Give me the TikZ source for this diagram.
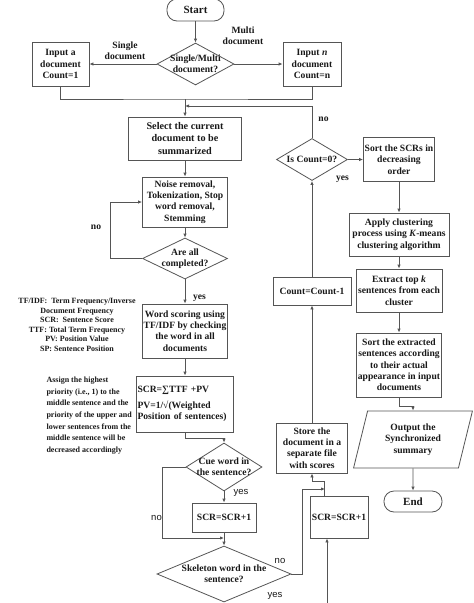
\documentclass[tikz,border=0pt]{standalone}
\usepackage{fontspec}
\setmainfont{Liberation Serif}
\newfontfamily\labelsans{Liberation Sans}
\usetikzlibrary{shapes.geometric, arrows.meta}
\usepackage{xcolor}
\definecolor{linegray}{RGB}{85,85,85}
\definecolor{inkblack}{RGB}{25,25,25}

\tikzset{
  flowline/.style={draw=linegray, line width=0.8pt},
  arr/.style={flowline, -{Latex[length=4pt,width=3.4pt]}},
  boxfont/.style={font=\fontsize{9.6}{11.3}\selectfont\bfseries, text=inkblack},
  procbox/.style={flowline, boxfont, rectangle, align=center, inner sep=1pt},
  decision/.style={flowline, diamond, inner sep=0pt},
  dtext/.style={boxfont, align=center},
  terminal/.style={flowline, boxfont, rectangle, rounded corners=10pt, font=\fontsize{11}{13}\selectfont\bfseries},
  iobox/.style={flowline, boxfont, trapezium, trapezium left angle=75, trapezium right angle=105, trapezium stretches=true, align=center, inner sep=1pt},
  serifnote/.style={boxfont, align=center},
  sansnote/.style={font=\labelsans\fontsize{9.5}{11}\selectfont, text=inkblack},
}

\begin{document}
\begin{tikzpicture}[x=1pt, y=-1pt]

    \useasboundingbox[fill=white] (0,0) rectangle (474,603);

    %left column
    \node[terminal, minimum width=57pt, minimum height=22pt] (start) at (195.5,10) {Start};
    \node[decision, minimum width=77pt, minimum height=42pt, label={[dtext]center:{Single/Multi\\document?}}] (mode) at (195.5,64) {};
    \node[procbox, minimum width=57pt, minimum height=44pt] (in1) at (60.5,64) {Input a\\document\\Count=1};
    \node[procbox, minimum width=58pt, minimum height=44pt] (inn) at (312,64) {Input \textit{n}\\document\\Count=n};
    \node[procbox, minimum width=113pt, minimum height=43pt, font=\fontsize{10.2}{12.3}\selectfont\bfseries] (select) at (185,138.5) {Select the current\\document to be\\summarized};
    \node[procbox, minimum width=85pt, minimum height=50pt] (noise) at (185,202) {Noise removal,\\Tokenization, Stop\\word removal,\\Stemming};
    \node[decision, minimum width=85pt, minimum height=41pt, label={[dtext]center:{Are all\\completed?}}] (done) at (185,258.5) {};
    \node[procbox, minimum width=85pt, minimum height=54pt] (score) at (185,331) {Word scoring using\\TF/IDF by checking\\the word in all\\documents};
    \node[procbox, align=left, text width=95pt, minimum height=56pt] (scr) at (185,404) {SCR=∑TTF +PV\\[5pt]PV=1/√(Weighted\\Position of sentences)};
    \node[decision, minimum width=76pt, minimum height=48pt, label={[dtext]center:{Cue word in\\the sentence?}}] (cue) at (224,467) {};
    \node[procbox, minimum width=64pt, minimum height=29pt] (add1) at (224,517.5) {SCR=SCR+1};
    \node[decision, minimum width=134pt, minimum height=56pt, label={[dtext]center:{Skeleton word in the\\sentence?}}] (skel) at (224,574) {};

    %middle column
    \node[decision, minimum width=71pt, minimum height=42pt, label={[dtext]center:{Is Count=0?}}] (countz) at (312,159.5) {};
    \node[procbox, minimum width=78pt, minimum height=28pt] (cnt) at (312,291) {Count=Count-1};
    \node[procbox, minimum width=71pt, minimum height=50pt] (store) at (312,448) {Store the\\document in a\\separate file\\with scores};
    \node[procbox, minimum width=58pt, minimum height=42pt] (add2) at (339,517) {SCR=SCR+1};

    %right column
    \node[procbox, minimum width=71pt, minimum height=44pt] (sortscr) at (399,159.5) {Sort the SCRs in\\decreasing\\order};
    \node[procbox, minimum width=100pt, minimum height=43pt] (cluster) at (399,234.5) {Apply clustering\\process using \textit{K}-means\\clustering algorithm};
    \node[procbox, minimum width=86pt, minimum height=43pt] (topk) at (399,290.5) {Extract top \textit{k}\\sentences from each\\cluster};
    \node[procbox, minimum width=85pt, minimum height=64pt] (sortext) at (399,365) {Sort the extracted\\sentences according\\to their actual\\appearance in input\\documents};
    \node[iobox, minimum width=119pt, minimum height=57pt] (out) at (413,439.5) {Output the\\Synchronized\\summary};
    \node[terminal, minimum width=58pt, minimum height=21pt] (finish) at (413,501.5) {End};

    %notes
    \node[font=\fontsize{8}{9.45}\selectfont\bfseries, text=inkblack, align=center] (legend) at (77,325) {TF/IDF:\ \ Term Frequency/Inverse\\Document Frequency\\SCR:\ \ Sentence Score\\TTF: Total Term Frequency\\PV: Position Value\\SP: Sentence Position};
    \node[font=\fontsize{8}{11.7}\selectfont\bfseries, text=inkblack, align=left, anchor=west] (priority) at (43,415.5) {Assign the highest\\priority (i.e., 1) to the\\middle sentence and the\\priority of the upper and\\lower sentences from the\\middle sentence will be\\decreased accordingly};

    %branch labels
    \node[serifnote] (lsingle) at (125,51) {Single\\document};
    \node[serifnote] (lmulti) at (243,36) {Multi\\document};
    \node[serifnote] (lnoloop) at (96,227) {no};
    \node[serifnote] (lyesdone) at (199.5,298) {yes};
    \node[serifnote] (lnocount) at (323.5,119) {no};
    \node[serifnote] (lyescount) at (342.5,179) {yes};
    \node[sansnote] (lyescue) at (241,493) {yes};
    \node[sansnote] (lnocue) at (156.5,518) {no};
    \node[sansnote] (lnoskel) at (280,561) {no};
    \node[sansnote] (lyesskel) at (275,596) {yes};

    %connectors
    \coordinate (join) at (185,99);
    \coordinate (loopback) at (185,106);
    \coordinate (cuejoin) at (224,538);
    \coordinate (mergeup) at (325,489);
    \coordinate (fromyes) at (327,603);

    \draw[arr] (start) -- (mode);
    \draw[arr] (mode) -- (in1);
    \draw[arr] (mode) -- (inn);
    \draw[flowline] (in1.south) |- (join) -| (inn.south);
    \draw[arr] (join) -- (select);
    \draw[arr] (countz.north) |- (loopback);
    \draw[arr] (select) -- (noise);
    \draw[arr] (noise) -- (done);
    \draw[arr] (done.west) -- ++(-32,0) |- (noise.west);
    \draw[arr] (done) -- (score);
    \draw[arr] (score) -- (scr);
    \draw[arr] (scr.south) -- ++(0,6) -| (cue.north);
    \draw[arr] (cue) -- (add1);
    \draw[arr] (add1) -- (skel);
    \draw[arr] (cue.west) -- ++(-23,0) |- (cuejoin);
    \draw[arr] (skel.east) -- ++(11,0) |- (mergeup);
    \draw[arr] ([xshift=15pt]add2.north west) -- ++(0,-14) -| (store.south);
    \draw[arr] (fromyes) -- (fromyes |- add2.south);
    \draw[arr] (store) -- (cnt);
    \draw[arr] (cnt) -- (countz);
    \draw[arr] (countz) -- (sortscr);
    \draw[arr] (sortscr) -- (cluster);
    \draw[arr] (cluster) -- (topk);
    \draw[arr] (topk) -- (sortext);
    \draw[arr] (sortext.south) -- ++(0,9) -| (out.north);
    \draw[arr] (out) -- (finish);

\end{tikzpicture}
\end{document}
